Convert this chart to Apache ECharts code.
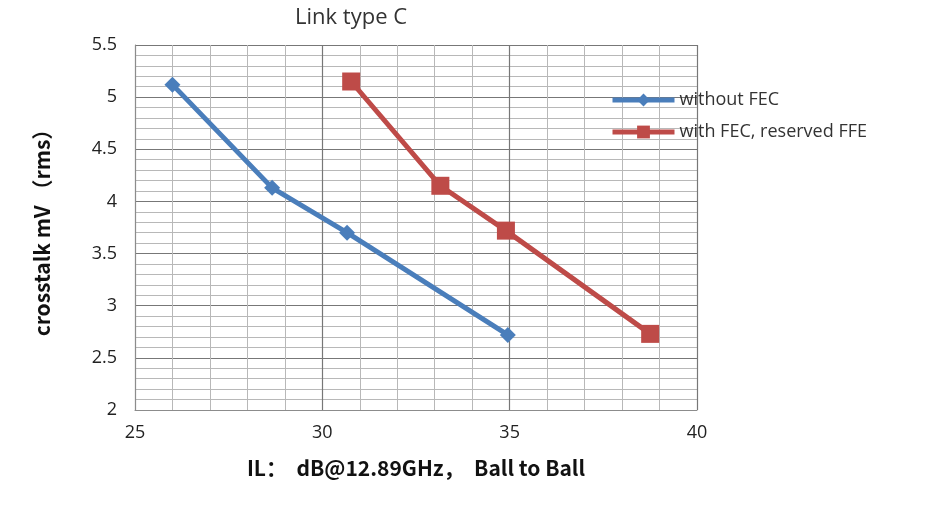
<!DOCTYPE html>
<html><head><meta charset="utf-8">
<script src="https://cdn.jsdelivr.net/npm/echarts@6/dist/echarts.min.js"></script>
<style>body{margin:0;background:#fff}#c{width:925px;height:525px}</style>
</head><body><div id="c"></div>
<script>
const withoutFec = [[26.0, 5.12], [28.66, 4.13], [30.66, 3.70], [34.95, 2.72]];
const withFec = [[30.77, 5.15], [33.15, 4.15], [34.9, 3.72], [38.75, 2.73]];
const seriesNames = ["without FEC", "with FEC, reserved FFE"];

const chart = echarts.init(document.getElementById("c"));
const grey = "#8c8c8c";
chart.setOption({
	animation: false,
	title: { text: "Link type C", left: 290, top: 2, textStyle: { fontFamily: "Open Sans", fontWeight: "normal", fontSize: 22, color: "#333" } },
	legend: {
		orient: "vertical", left: 605, top: 86, itemGap: 14, itemWidth: 62, itemHeight: 16,
		data: seriesNames,
		lineStyle: { width: 5 },
		textStyle: { fontFamily: "Open Sans", fontSize: 18, color: "#333" }
	},
	grid: { left: 135, right: 228, top: 45, bottom: 115 },
	xAxis: {
		type: "value", min: 25, max: 40, interval: 5,
		name: "IL：  dB@12.89GHz，  Ball to Ball", nameLocation: "middle", nameGap: 48,
		nameTextStyle: { fontFamily: "Noto Sans CJK SC", fontWeight: "bold", fontSize: 21, color: "#111" },
		axisLine: { lineStyle: { color: grey } }, axisTick: { show: false },
		axisLabel: { fontFamily: "Open Sans", fontSize: 18, color: "#222", margin: 14 },
		splitLine: { lineStyle: { color: "#777", width: 1.2 } },
		minorTick: { show: false, splitNumber: 5 },
		minorSplitLine: { show: true, lineStyle: { color: "#b8b8b8" } }
	},
	yAxis: {
		type: "value", min: 2, max: 5.5, interval: 0.5,
		name: "crosstalk mV （rms）", nameLocation: "middle", nameGap: 82,
		nameTextStyle: { fontFamily: "Noto Sans CJK SC", fontWeight: "bold", fontSize: 21, color: "#111" },
		axisLine: { show: true, lineStyle: { color: grey } }, axisTick: { show: false },
		axisLabel: { fontFamily: "Open Sans", fontSize: 18, color: "#222", margin: 18 },
		splitLine: { lineStyle: { color: "#777", width: 1.2 } },
		minorTick: { show: false, splitNumber: 5 },
		minorSplitLine: { show: true, lineStyle: { color: "#b8b8b8" } }
	},
	series: [
		{ name: seriesNames[0], type: "line", data: withoutFec, symbol: "diamond", symbolSize: 16,
		  lineStyle: { color: "#4a7ebb", width: 5 }, itemStyle: { color: "#4a7ebb" } },
		{ name: seriesNames[1], type: "line", data: withFec, symbol: "rect", symbolSize: 18,
		  lineStyle: { color: "#be4b48", width: 5 }, itemStyle: { color: "#be4b48" } }
	]
});
</script></body></html>
